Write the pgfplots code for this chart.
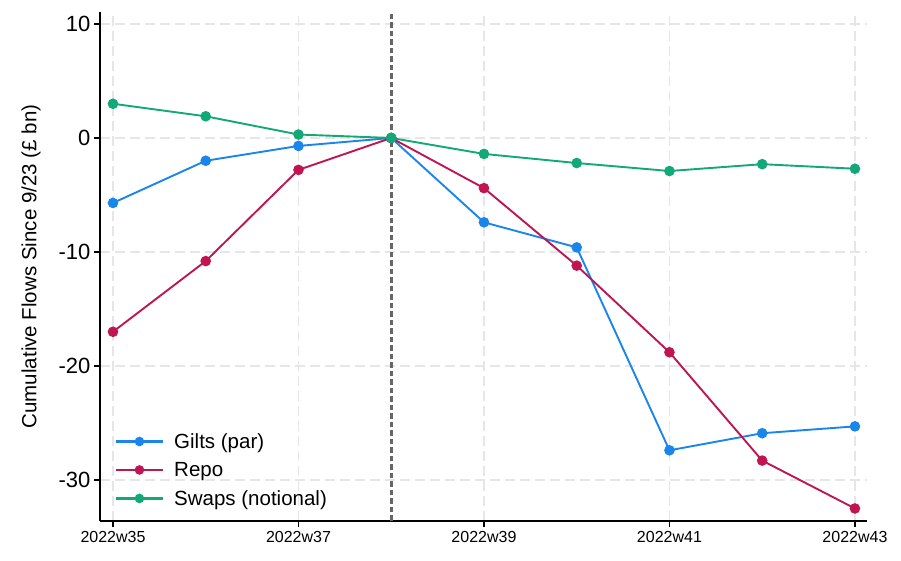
\documentclass[border=0pt]{standalone}
\usepackage{fontspec}
\setmainfont{Liberation Sans}
\usepackage{pgfplots}
\pgfplotsset{compat=1.18}

\definecolor{gilts}{RGB}{26,133,235}
\definecolor{repo}{RGB}{190,22,85}
\definecolor{swaps}{RGB}{18,168,120}
\definecolor{gridgray}{RGB}{230,230,230}

\begin{document}
\begin{tikzpicture}
\useasboundingbox (-100pt,-40pt) rectangle (801pt,521pt);
\begin{axis}[
    at={(0pt,0pt)}, anchor=south west,
    scale only axis,
    width=767pt, height=509pt,
    xmin=34.86, xmax=43.13,
    ymin=-33.6, ymax=11.05,
    axis x line*=bottom, axis y line*=left,
    axis line style={line width=1.3pt, black},
    xtick={35,37,39,41,43},
    xticklabels={2022w35,2022w37,2022w39,2022w41,2022w43},
    ytick={-30,-20,-10,0,10},
    tick align=outside,
    major tick length=6pt,
    tick style={line width=1.3pt, black},
    x tick label style={font=\fontsize{16}{18}\selectfont, yshift=-1pt},
    y tick label style={font=\fontsize{22}{24}\selectfont},
    /pgf/number format/assume math mode=true,
    ylabel={Cumulative Flows Since 9/23 (£ bn)},
    every axis y label/.style={at={(axis description cs:0,0.5)}, xshift=-69pt,
        rotate=90, anchor=center, font=\fontsize{20.5}{24}\selectfont},
    grid=major,
    major grid style={gridgray, line width=1.3pt, dash pattern=on 10pt off 5pt},
    legend style={at={(0.015,0.02)}, anchor=south west, draw=none, fill=none,
        font=\fontsize{20.5}{23}\selectfont, row sep=8.5pt,
        /tikz/every odd column/.append style={column sep=8pt}},
    legend cell align=left,
    legend image code/.code={
        \draw[#1, mark=none, line width=2.5pt] (0pt,0pt) -- (47pt,0pt);
        \fill[#1] (23.5pt,0pt) circle (3.8pt);
    },
    every axis plot/.append style={line width=1.9pt},
]
\addplot[gray!80!black, line width=3pt, dash pattern=on 5.5pt off 3pt, forget plot]
    coordinates {(38,-33.6) (38,11.05)};
\addplot[gilts, mark=*, mark size=4.3pt] coordinates {
    (35,-5.7) (36,-2.0) (37,-0.7) (38,0) (39,-7.4) (40,-9.6) (41,-27.4) (42,-25.9) (43,-25.3)};
\addplot[repo, mark=*, mark size=4.3pt, mark options={fill=repo!90!red}] coordinates {
    (35,-17.0) (36,-10.8) (37,-2.8) (38,0) (39,-4.4) (40,-11.2) (41,-18.8) (42,-28.3) (43,-32.5)};
\addplot[swaps, mark=*, mark size=4.3pt] coordinates {
    (35,3.0) (36,1.9) (37,0.3) (38,0) (39,-1.4) (40,-2.2) (41,-2.9) (42,-2.3) (43,-2.7)};
\legend{Gilts (par), Repo, Swaps (notional)}
\end{axis}
\end{tikzpicture}
\end{document}
